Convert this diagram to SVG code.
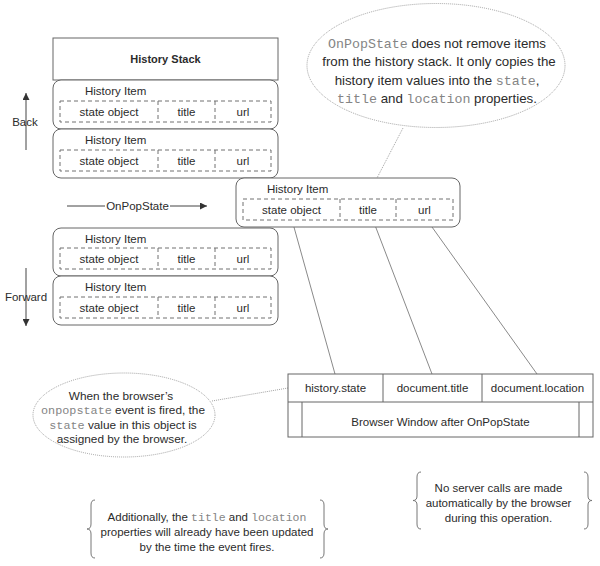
<svg xmlns="http://www.w3.org/2000/svg" width="600" height="566" viewBox="0 0 600 566">
<style>
text{font-family:"Liberation Sans",Arial,sans-serif;fill:#2b2b2b;font-size:11.5px}
text.big{font-size:13.3px}
text.mid{font-size:11.8px}
text.hdr{font-size:11px;font-weight:bold}
.c{text-anchor:middle}
.m{font-family:"Liberation Mono","Courier New",monospace;fill:#858585}
.box{fill:#fff;stroke:#666;stroke-width:1}
.dash{fill:none;stroke:#707070;stroke-width:1;stroke-dasharray:4 3}
.note{fill:#fff;stroke:#8a8a8a;stroke-width:0.8;stroke-dasharray:1 1}
.link{fill:none;stroke:#8a8a8a;stroke-width:1}
.dlink{fill:none;stroke:#8a8a8a;stroke-width:0.8;stroke-dasharray:1 1}
.arr{fill:none;stroke:#444;stroke-width:1}
.brace{fill:none;stroke:#777;stroke-width:1}
</style>
<defs>
<marker id="ah" viewBox="0 0 10 10" refX="10" refY="5" markerWidth="8" markerHeight="7" markerUnits="userSpaceOnUse" orient="auto">
<path d="M0,0 L10,5 L0,10 z" fill="#333"/>
</marker>
</defs>

<g id="connectors">
<line class="link" x1="292" y1="220" x2="335" y2="374"/>
<line class="link" x1="373" y1="220" x2="432" y2="374"/>
<line class="link" x1="427" y1="220" x2="537" y2="374"/>
<line class="dlink" x1="403" y1="128" x2="377" y2="178"/>
<line class="dlink" x1="212" y1="401" x2="288" y2="388"/>
<line class="arr" x1="26" y1="150" x2="26" y2="93" marker-end="url(#ah)"/>
<line class="arr" x1="26" y1="268" x2="26" y2="326" marker-end="url(#ah)"/>
<line class="arr" x1="67" y1="206" x2="105" y2="206"/>
<line class="arr" x1="170" y1="206" x2="207" y2="206" marker-end="url(#ah)"/>
</g>

<g id="labels">
<text class="c" x="25" y="126">Back</text>
<text class="c" x="26" y="301">Forward</text>
<text class="c" x="137.5" y="210">OnPopState</text>
</g>

<g id="history-stack">
<rect class="box" x="53" y="38" width="225" height="42"/>
<text class="c hdr" x="165.5" y="63">History Stack</text>
</g>

<g id="item1">
<rect class="box" x="53" y="80" width="225" height="49" rx="8"/>
<text x="85" y="95">History Item</text>
<rect class="dash" x="60" y="101" width="211" height="21"/>
<line class="dash" x1="158" y1="101" x2="158" y2="122"/>
<line class="dash" x1="215" y1="101" x2="215" y2="122"/>
<text class="c" x="109" y="115.5">state object</text>
<text class="c" x="186.5" y="115.5">title</text>
<text class="c" x="243" y="115.5">url</text>
</g>

<g id="item2">
<rect class="box" x="53" y="129" width="225" height="49" rx="8"/>
<text x="85" y="144">History Item</text>
<rect class="dash" x="60" y="150" width="211" height="21"/>
<line class="dash" x1="158" y1="150" x2="158" y2="171"/>
<line class="dash" x1="215" y1="150" x2="215" y2="171"/>
<text class="c" x="109" y="164.5">state object</text>
<text class="c" x="186.5" y="164.5">title</text>
<text class="c" x="243" y="164.5">url</text>
</g>

<g id="item-popped">
<rect class="box" x="236" y="178" width="224" height="49" rx="8"/>
<text x="267" y="192.5">History Item</text>
<rect class="dash" x="243" y="199" width="210" height="21"/>
<line class="dash" x1="340" y1="199" x2="340" y2="220"/>
<line class="dash" x1="396" y1="199" x2="396" y2="220"/>
<text class="c" x="291.5" y="213.5">state object</text>
<text class="c" x="368" y="213.5">title</text>
<text class="c" x="424.5" y="213.5">url</text>
</g>

<g id="item3">
<rect class="box" x="53" y="228" width="225" height="48" rx="8"/>
<text x="85" y="242.5">History Item</text>
<rect class="dash" x="60" y="248" width="211" height="21"/>
<line class="dash" x1="158" y1="248" x2="158" y2="269"/>
<line class="dash" x1="215" y1="248" x2="215" y2="269"/>
<text class="c" x="109" y="262.5">state object</text>
<text class="c" x="186.5" y="262.5">title</text>
<text class="c" x="243" y="262.5">url</text>
</g>

<g id="item4">
<rect class="box" x="53" y="276" width="225" height="49" rx="8"/>
<text x="85" y="291">History Item</text>
<rect class="dash" x="60" y="297" width="211" height="21"/>
<line class="dash" x1="158" y1="297" x2="158" y2="318"/>
<line class="dash" x1="215" y1="297" x2="215" y2="318"/>
<text class="c" x="109" y="311.5">state object</text>
<text class="c" x="186.5" y="311.5">title</text>
<text class="c" x="243" y="311.5">url</text>
</g>

<g id="browser-window">
<rect class="box" x="288" y="374" width="305" height="63"/>
<line class="box" x1="288" y1="402" x2="593" y2="402"/>
<line class="box" x1="383" y1="374" x2="383" y2="402"/>
<line class="box" x1="482" y1="374" x2="482" y2="402"/>
<line class="box" x1="302" y1="402" x2="302" y2="437"/>
<line class="box" x1="579" y1="402" x2="579" y2="437"/>
<text class="c" x="335.5" y="392">history.state</text>
<text class="c" x="432.5" y="392">document.title</text>
<text class="c" x="537.5" y="392">document.location</text>
<text class="c" x="440.5" y="425.5">Browser Window after OnPopState</text>
</g>

<g id="note-top">
<ellipse class="note" cx="436" cy="65.5" rx="129" ry="62"/>
<text class="c big" x="437" y="47.5"><tspan class="m">OnPopState</tspan> does not remove items</text>
<text class="c big" x="439" y="66">from the history stack. It only copies the</text>
<text class="c big" x="437" y="84.5">history item values into the <tspan class="m">state</tspan>,</text>
<text class="c big" x="437" y="103"><tspan class="m">title</tspan> and <tspan class="m">location</tspan> properties.</text>
</g>

<g id="note-left">
<ellipse class="note" cx="124" cy="415" rx="91" ry="42"/>
<text class="c mid" x="121" y="399.5">When the browser’s</text>
<text class="c mid" x="123" y="414"><tspan class="m">onpopstate</tspan> event is fired, the</text>
<text class="c mid" x="123" y="428.5"><tspan class="m">state</tspan> value in this object is</text>
<text class="c mid" x="122" y="443">assigned by the browser.</text>
</g>

<g id="note-brace-1">
<path class="brace" d="M95,500 Q91,500 91,505 L91,524 Q91,529 87,529 Q91,529 91,534 L91,553 Q91,558 95,558"/>
<path class="brace" d="M320,500 Q324,500 324,505 L324,524 Q324,529 328,529 Q324,529 324,534 L324,553 Q324,558 320,558"/>
<text class="c" x="207" y="521">Additionally, the <tspan class="m">title</tspan> and <tspan class="m">location</tspan></text>
<text class="c" x="207" y="536">properties will already have been updated</text>
<text class="c" x="207" y="551">by the time the event fires.</text>
</g>

<g id="note-brace-2">
<path class="brace" d="M421,472 Q417,472 417,477 L417,496 Q417,500.5 413,500.5 Q417,500.5 417,505 L417,524 Q417,529 421,529"/>
<path class="brace" d="M584,472 Q588,472 588,477 L588,496 Q588,500.5 592,500.5 Q588,500.5 588,505 L588,524 Q588,529 584,529"/>
<text class="c" x="498.5" y="492">No server calls are made</text>
<text class="c" x="498.5" y="507">automatically by the browser</text>
<text class="c" x="498.5" y="522">during this operation.</text>
</g>
</svg>
